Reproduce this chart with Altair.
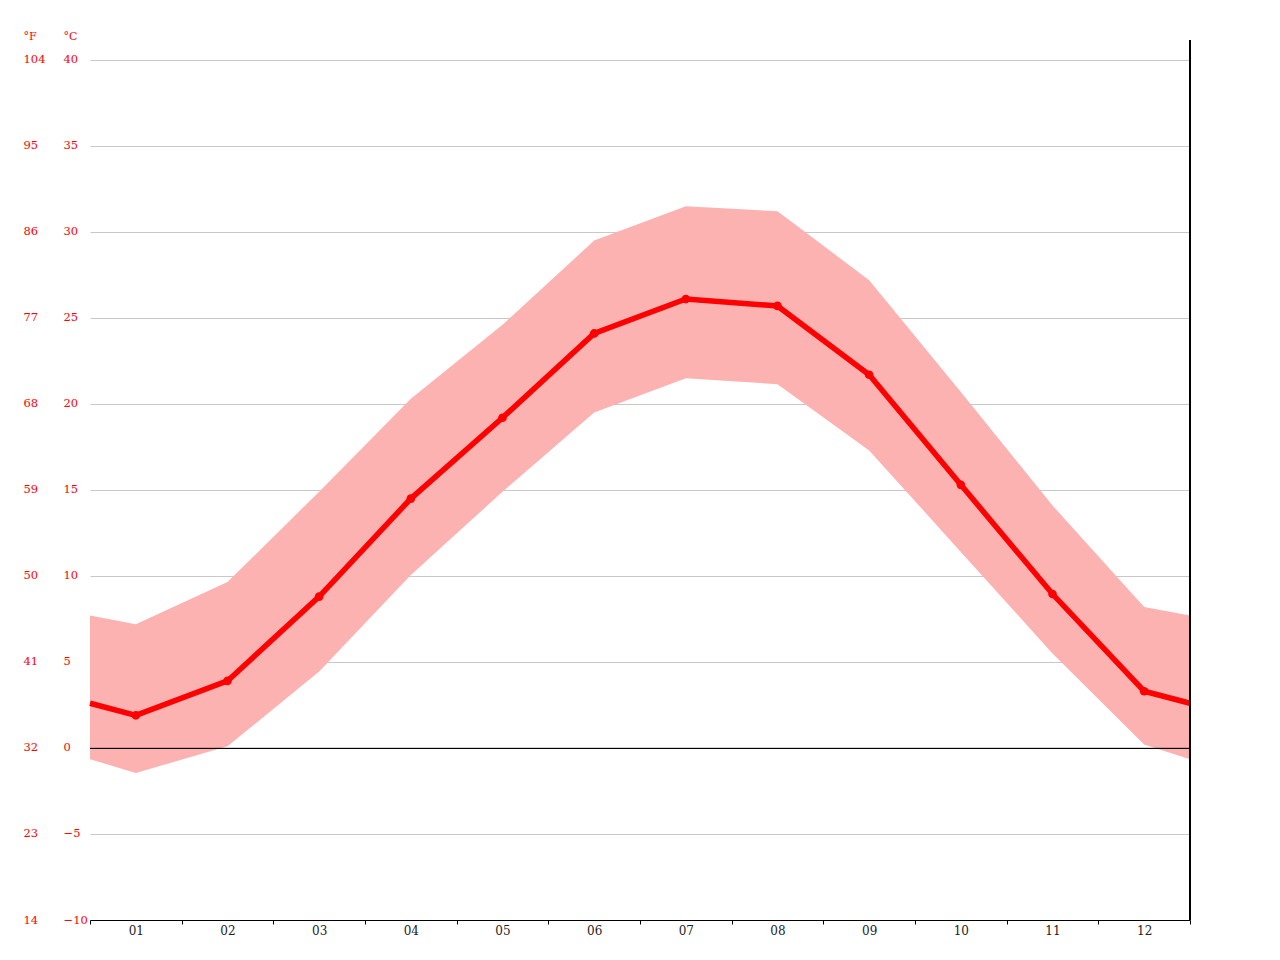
import altair as alt
import pandas as pd

# ---- data ----
MONTHS = [1, 2, 3, 4, 5, 6, 7, 8, 9, 10, 11, 12]
MEAN = [1.9, 3.9, 8.8, 14.5, 19.2, 24.1, 26.1, 25.7, 21.7, 15.3, 8.95, 3.3]
HIGH = [7.2, 9.65, 14.9, 20.3, 24.6, 29.5, 31.5, 31.2, 27.2, 20.7, 14.1, 8.2]
LOW = [-1.45, 0.1, 4.45, 10.05, 14.9, 19.5, 21.5, 21.15, 17.3, 11.4, 5.5, 0.2]
# values at the left/right edges of the plot (x = 0.5 and 12.5)
EDGE_POS = [0.5, 12.5]
EDGE_MEAN = [2.6, 2.6]
EDGE_HIGH = [7.7, 7.7]
EDGE_LOW = [-0.65, -0.65]

C_TICKS = [-10, -5, 0, 5, 10, 15, 20, 25, 30, 35, 40]
F_TICKS = [14, 23, 32, 41, 50, 59, 68, 77, 86, 95, 104]
X_TICKS = [0.5, 1, 1.5, 2, 2.5, 3, 3.5, 4, 4.5, 5, 5.5, 6, 6.5, 7, 7.5, 8,
           8.5, 9, 9.5, 10, 10.5, 11, 11.5, 12, 12.5]

C_DOMAIN = [-10, 41.16]
F_DOMAIN = [14, 106.09]
X_DOMAIN = [0.5, 12.5]

FONT = "DejaVu Serif"
RED = "#ff0000"

full = pd.DataFrame({
    "month": [EDGE_POS[0]] + MONTHS + [EDGE_POS[1]],
    "mean": [EDGE_MEAN[0]] + MEAN + [EDGE_MEAN[1]],
    "high": [EDGE_HIGH[0]] + HIGH + [EDGE_HIGH[1]],
    "low": [EDGE_LOW[0]] + LOW + [EDGE_LOW[1]],
})
pts = pd.DataFrame({"month": MONTHS, "mean": MEAN})
fdf = pd.DataFrame({"f": F_TICKS})

xscale = alt.Scale(domain=X_DOMAIN, nice=False, zero=False)
yscale = alt.Scale(domain=C_DOMAIN, nice=False, zero=False)

xaxis = alt.Axis(
    values=X_TICKS,
    labelExpr="datum.value % 1 === 0 ? (datum.value < 10 ? '0' + datum.value : '' + datum.value) : ''",
    tickOpacity={"condition": {"test": "datum.value % 1 === 0", "value": 0}, "value": 1},
    tickSize=4, tickColor="black", tickWidth=1,
    domainColor="black", domainWidth=1,
    labelFont=FONT, labelFontSize=12, labelColor="#222",
    labelPadding=1, labelBaseline="top",
    grid=False, title=None, labelFlush=False, labelOverlap=False,
)

X = alt.X("month:Q", scale=xscale, axis=xaxis)

yaxis_c = alt.Axis(
    values=C_TICKS, orient="left",
    labelAlign="left", labelPadding=27, labelBaseline="middle",
    labelFont=FONT, labelFontSize=11.5, labelColor=RED,
    ticks=False, domain=False,
    grid=True, gridColor="#c8c8c8", gridWidth=1,
    title="°C", titleAngle=0, titleAlign="left", titleBaseline="middle",
    titleX=-27, titleY=-4, titleFont=FONT, titleFontSize=11,
    titleFontWeight="normal", titleColor=RED, labelFlush=False,
)

band = alt.Chart(full).mark_area(color="#fdb2b2", opacity=1).encode(
    x=X,
    y=alt.Y("low:Q", scale=yscale, axis=yaxis_c),
    y2="high:Q",
)

zero = alt.Chart(full).mark_rule(color="black", strokeWidth=1, yOffset=0.5).encode(
    x=alt.datum(X_DOMAIN[0], scale=xscale),
    x2=alt.datum(X_DOMAIN[1]),
    y=alt.datum(0),
)

right_line = alt.Chart(full).mark_rule(color="black", strokeWidth=1.5).encode(
    x=alt.datum(X_DOMAIN[1]),
    y=alt.datum(C_DOMAIN[0]),
    y2=alt.datum(C_DOMAIN[1]),
)

line = alt.Chart(full).mark_line(color=RED, strokeWidth=5.5).encode(
    x=X, y=alt.Y("mean:Q", scale=yscale)
)

dots = alt.Chart(pts).mark_circle(color=RED, size=75, opacity=1).encode(
    x=X, y=alt.Y("mean:Q", scale=yscale)
)

c_layer = alt.layer(band, zero, line, dots, right_line)

f_layer = alt.Chart(fdf).mark_point(opacity=0).encode(
    x=alt.datum(1, scale=xscale),
    y=alt.Y("f:Q", scale=alt.Scale(domain=F_DOMAIN, nice=False, zero=False),
            axis=alt.Axis(
                values=F_TICKS, orient="left",
                labelAlign="left", labelPadding=67, labelBaseline="middle",
                labelFont=FONT, labelFontSize=11.5, labelColor=RED,
                ticks=False, domain=False, grid=False,
                title="°F", titleAngle=0, titleAlign="left", titleBaseline="middle",
                titleX=-67, titleY=-4, titleFont=FONT, titleFontSize=11,
                titleFontWeight="normal", titleColor=RED, labelFlush=False,
            )),
)

chart = alt.layer(c_layer, f_layer).resolve_scale(y="independent").properties(
    width=1100, height=880,
    background="white",
    autosize=alt.AutoSizeParams(type="none"),
    padding={"left": 82, "top": 32, "right": 60, "bottom": 30},
).configure_view(stroke="transparent", strokeWidth=0)

chart.save("out.html", embed_options={"renderer": "svg", "actions": False})
